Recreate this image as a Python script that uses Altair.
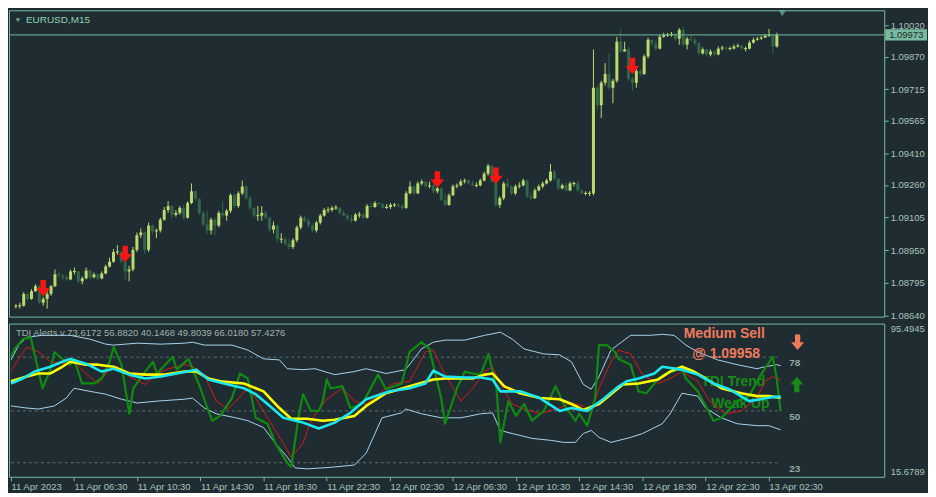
import altair as alt
import pandas as pd

# ---------------- price data (EURUSD, M15) ----------------
SYMBOL = "EURUSD,M15"
FIRST_OPEN = 1.08681
CLOSE = [
    1.08686, 1.08686, 1.08742, 1.08718, 1.08755, 1.08779, 1.08700, 1.08718, 1.08742, 1.08779,
    1.08835, 1.08830, 1.08821, 1.08811, 1.08849, 1.08849, 1.08802, 1.08816, 1.08853, 1.08821,
    1.08835, 1.08816, 1.08839, 1.08872, 1.08895, 1.08941, 1.08941, 1.08895, 1.08849, 1.08858,
    1.08951, 1.09021, 1.09034, 1.08951, 1.09067, 1.09039, 1.09044, 1.09095, 1.09141, 1.09160,
    1.09118, 1.09127, 1.09151, 1.09104, 1.09174, 1.09230, 1.09193, 1.09127, 1.09072, 1.09044,
    1.09095, 1.09067, 1.09127, 1.09114, 1.09137, 1.09211, 1.09160, 1.09220, 1.09253, 1.09197,
    1.09151, 1.09114, 1.09114, 1.09127, 1.09104, 1.09048, 1.09067, 1.09002, 1.09002, 1.08979,
    1.08965, 1.08997, 1.09058, 1.09104, 1.09090, 1.09067, 1.09044, 1.09081, 1.09114, 1.09141,
    1.09141, 1.09151, 1.09151, 1.09127, 1.09114, 1.09100, 1.09090, 1.09118, 1.09118, 1.09104,
    1.09160, 1.09155, 1.09174, 1.09169, 1.09151, 1.09155, 1.09165, 1.09165, 1.09160, 1.09151,
    1.09220, 1.09253, 1.09220, 1.09267, 1.09276, 1.09253, 1.09258, 1.09230, 1.09244, 1.09188,
    1.09165, 1.09211, 1.09253, 1.09258, 1.09276, 1.09281, 1.09267, 1.09258, 1.09258, 1.09281,
    1.09313, 1.09351, 1.09276, 1.09165, 1.09197, 1.09267, 1.09253, 1.09220, 1.09253, 1.09258,
    1.09281, 1.09207, 1.09197, 1.09234, 1.09253, 1.09267, 1.09281, 1.09323, 1.09290, 1.09244,
    1.09258, 1.09234, 1.09267, 1.09267, 1.09234, 1.09220, 1.09220, 1.09220, 1.09722, 1.09639,
    1.09746, 1.09787, 1.09722, 1.09755, 1.09941, 1.09894, 1.09904, 1.09764, 1.09746, 1.09801,
    1.09787, 1.09871, 1.09950, 1.09932, 1.09908, 1.09964, 1.09973, 1.09973, 1.09978, 1.09955,
    1.09997, 1.09927, 1.09955, 1.09950, 1.09932, 1.09885, 1.09904, 1.09880, 1.09894, 1.09880,
    1.09908, 1.09913, 1.09908, 1.09908, 1.09918, 1.09922, 1.09908, 1.09908, 1.09936, 1.09950,
    1.09955, 1.09960, 1.09969, 1.09973, 1.09918, 1.09973,
]
HIGH = [
    1.08695, 1.08700, 1.08751, 1.08746, 1.08765, 1.08788, 1.08783, 1.08728, 1.08755, 1.08783,
    1.08858, 1.08849, 1.08839, 1.08830, 1.08858, 1.08867, 1.08849, 1.08825, 1.08867, 1.08858,
    1.08844, 1.08839, 1.08849, 1.08881, 1.08914, 1.08955, 1.08974, 1.08946, 1.08904, 1.08876,
    1.08965, 1.09034, 1.09053, 1.09039, 1.09081, 1.09072, 1.09053, 1.09104, 1.09155, 1.09183,
    1.09165, 1.09141, 1.09160, 1.09165, 1.09183, 1.09267, 1.09234, 1.09197, 1.09137, 1.09137,
    1.09104, 1.09104, 1.09137, 1.09183, 1.09146, 1.09220, 1.09220, 1.09230, 1.09281, 1.09258,
    1.09207, 1.09155, 1.09160, 1.09160, 1.09137, 1.09109, 1.09086, 1.09072, 1.09030, 1.09011,
    1.09002, 1.09007, 1.09067, 1.09114, 1.09114, 1.09100, 1.09076, 1.09090, 1.09123, 1.09151,
    1.09155, 1.09160, 1.09165, 1.09155, 1.09137, 1.09123, 1.09118, 1.09127, 1.09132, 1.09127,
    1.09169, 1.09174, 1.09183, 1.09179, 1.09174, 1.09169, 1.09174, 1.09174, 1.09174, 1.09169,
    1.09230, 1.09276, 1.09258, 1.09276, 1.09286, 1.09276, 1.09276, 1.09267, 1.09253, 1.09248,
    1.09220, 1.09220, 1.09262, 1.09267, 1.09286, 1.09290, 1.09286, 1.09281, 1.09272, 1.09290,
    1.09323, 1.09360, 1.09355, 1.09281, 1.09207, 1.09276, 1.09290, 1.09258, 1.09262, 1.09272,
    1.09290, 1.09286, 1.09225, 1.09244, 1.09262, 1.09276, 1.09290, 1.09360, 1.09332, 1.09290,
    1.09267, 1.09272, 1.09276, 1.09276, 1.09281, 1.09239, 1.09230, 1.09230, 1.09904, 1.09732,
    1.09755, 1.09839, 1.09885, 1.09764, 1.09964, 1.10001, 1.09941, 1.09918, 1.09774, 1.09811,
    1.09811, 1.09880, 1.09960, 1.09950, 1.09946, 1.09973, 1.09983, 1.09983, 1.09987, 1.09983,
    1.10006, 1.10011, 1.09964, 1.09969, 1.09960, 1.09941, 1.09913, 1.09908, 1.09904, 1.09899,
    1.09918, 1.09922, 1.09918, 1.09918, 1.09927, 1.09932, 1.09927, 1.09918, 1.09946, 1.09960,
    1.09964, 1.09969, 1.09978, 1.10001, 1.09978, 1.09983,
]
LOW = [
    1.08672, 1.08672, 1.08681, 1.08709, 1.08714, 1.08751, 1.08695, 1.08686, 1.08672, 1.08732,
    1.08774, 1.08816, 1.08807, 1.08802, 1.08807, 1.08835, 1.08793, 1.08788, 1.08811, 1.08811,
    1.08816, 1.08807, 1.08811, 1.08835, 1.08867, 1.08890, 1.08928, 1.08886, 1.08811, 1.08802,
    1.08849, 1.08941, 1.09007, 1.08932, 1.08941, 1.09025, 1.09007, 1.09034, 1.09090, 1.09127,
    1.09100, 1.09109, 1.09118, 1.09095, 1.09100, 1.09169, 1.09183, 1.09118, 1.09062, 1.09025,
    1.09025, 1.09021, 1.09058, 1.09104, 1.09090, 1.09127, 1.09151, 1.09151, 1.09211, 1.09188,
    1.09141, 1.09104, 1.09090, 1.09090, 1.09095, 1.09039, 1.09030, 1.08988, 1.08983, 1.08974,
    1.08955, 1.08955, 1.08988, 1.09048, 1.09081, 1.09058, 1.09034, 1.09034, 1.09072, 1.09109,
    1.09127, 1.09132, 1.09141, 1.09118, 1.09109, 1.09090, 1.09081, 1.09086, 1.09104, 1.09095,
    1.09100, 1.09146, 1.09151, 1.09160, 1.09146, 1.09146, 1.09146, 1.09155, 1.09151, 1.09141,
    1.09146, 1.09216, 1.09211, 1.09216, 1.09258, 1.09248, 1.09244, 1.09220, 1.09220, 1.09183,
    1.09160, 1.09160, 1.09207, 1.09244, 1.09253, 1.09267, 1.09262, 1.09253, 1.09248, 1.09253,
    1.09276, 1.09304, 1.09272, 1.09155, 1.09151, 1.09188, 1.09244, 1.09211, 1.09211, 1.09244,
    1.09253, 1.09197, 1.09188, 1.09193, 1.09230, 1.09244, 1.09262, 1.09276, 1.09281, 1.09234,
    1.09239, 1.09230, 1.09230, 1.09253, 1.09225, 1.09216, 1.09211, 1.09207, 1.09211, 1.09615,
    1.09578, 1.09732, 1.09713, 1.09648, 1.09746, 1.09885, 1.09894, 1.09755, 1.09708, 1.09722,
    1.09778, 1.09783, 1.09862, 1.09922, 1.09899, 1.09904, 1.09960, 1.09964, 1.09964, 1.09946,
    1.09927, 1.09918, 1.09904, 1.09941, 1.09922, 1.09876, 1.09880, 1.09871, 1.09871, 1.09871,
    1.09876, 1.09899, 1.09899, 1.09899, 1.09904, 1.09913, 1.09904, 1.09894, 1.09904, 1.09932,
    1.09946, 1.09950, 1.09960, 1.09964, 1.09880, 1.09913,
]

SELL_ARROW_BARS = [7, 28, 108, 123, 158]
SELL_ARROW_PRICES = [1.08769, 1.08932, 1.09286, 1.09304, 1.09825]

BID_PRICE = 1.09973
PRICE_TICKS = [1.10020, 1.09870, 1.09715, 1.09565, 1.09410, 1.09260, 1.09105, 1.08950, 1.08795, 1.08640]
PRICE_RANGE = [1.08634, 1.10090]

TIME_TICK_BARS = [0, 16, 32, 48, 64, 80, 96, 112, 128, 144, 160, 176, 192]
TIME_TICK_LABELS = ["11 Apr 2023", "11 Apr 06:30", "11 Apr 10:30", "11 Apr 14:30", "11 Apr 18:30",
                    "11 Apr 22:30", "12 Apr 02:30", "12 Apr 06:30", "12 Apr 10:30", "12 Apr 14:30",
                    "12 Apr 18:30", "12 Apr 22:30", "13 Apr 02:30"]

# ---------------- TDI indicator data ----------------
TDI_RANGE = [15.6789, 95.4945]
LEVELS = [78, 50, 23]

UPPER_BARS = [0, 2, 4, 8, 11, 15, 20, 24, 26, 29, 32, 38, 44, 46, 49, 52, 56, 60, 64, 68, 70, 74, 77, 82, 87, 90, 95, 100,
              104, 107, 110, 115, 120, 124, 127, 130, 135, 139, 142, 145, 147, 149, 152, 154, 157, 162, 165, 168, 171,
              174, 179, 184, 189, 191, 194, 195]
UPPER_VALS = [76.6, 84.3, 88.4, 89.4, 89.4, 89.4, 87.4, 84.8, 84.3, 84.8, 85.3, 84.8, 85.3, 85.8, 84.3, 84.3, 84.3, 81.7,
              77.1, 76.6, 72.0, 71.5, 72.0, 68.9, 70.5, 72.0, 69.5, 71.5, 82.3, 85.8, 86.9, 86.9, 89.4, 91.0, 87.4, 82.3,
              79.7, 79.2, 75.6, 63.8, 61.3, 67.9, 81.7, 84.8, 89.4, 89.4, 89.9, 89.4, 84.3, 80.7, 76.6, 74.1, 72.0, 73.0,
              74.1, 73.6172]

LOWER_BARS = [0, 4, 7, 11, 14, 16, 20, 24, 28, 32, 37, 44, 46, 49, 52, 57, 60, 64, 67, 70, 72, 75, 79, 82, 87, 90, 94, 99,
              100, 104, 109, 114, 119, 122, 124, 127, 132, 137, 140, 143, 145, 147, 149, 152, 157, 160, 165, 167, 170,
              174, 176, 180, 184, 189, 192, 195]
LOWER_VALS = [52.6, 51.5, 51.0, 52.6, 56.7, 61.8, 60.2, 58.7, 56.1, 54.1, 55.1, 56.1, 56.7, 51.5, 48.5, 46.4, 44.9, 41.3,
              33.1, 25.9, 20.3, 19.8, 20.3, 20.8, 21.8, 28.0, 46.4, 49.0, 51.0, 48.5, 46.4, 46.4, 48.5, 49.0, 39.8, 38.2,
              35.7, 34.6, 33.6, 33.6, 38.2, 39.8, 36.2, 33.6, 36.2, 38.2, 43.3, 48.5, 59.2, 57.7, 51.5, 46.4, 43.3, 42.3,
              42.3, 40.1468]

BASE_BARS = [0, 4, 7, 10, 13, 15, 19, 22, 26, 30, 34, 39, 44, 47, 50, 53, 59, 64, 68, 71, 75, 79, 82, 87, 90, 95, 101, 107,
             110, 117, 120, 122, 125, 129, 134, 139, 142, 145, 149, 152, 155, 159, 164, 167, 170, 173, 176, 180, 185,
             189, 192, 195]
BASE_VALS = [65.4, 67.9, 69.5, 69.5, 73.0, 75.6, 74.1, 74.1, 73.0, 69.5, 68.9, 68.9, 70.5, 70.5, 66.9, 65.4, 64.3, 60.2,
             51.5, 45.9, 45.9, 44.9, 45.4, 47.4, 52.6, 59.2, 62.8, 66.4, 66.9, 66.9, 68.9, 69.5, 62.8, 59.2, 56.7, 56.1,
             53.6, 50.5, 53.6, 58.7, 63.8, 64.3, 66.4, 70.5, 73.0, 70.5, 66.9, 61.8, 59.2, 57.7, 57.7, 56.8820]

CYAN_BARS = [0, 3, 6, 10, 13, 15, 19, 23, 26, 30, 34, 38, 42, 47, 50, 55, 59, 62, 65, 69, 74, 78, 82, 86, 90, 96, 101, 105,
             107, 110, 115, 119, 122, 124, 129, 134, 139, 142, 146, 150, 154, 156, 159, 163, 165, 170, 174, 178, 182,
             187, 190, 193, 195]
CYAN_VALS = [64.3, 66.9, 70.5, 73.0, 75.6, 77.1, 74.6, 70.5, 72.0, 68.9, 66.9, 67.9, 69.5, 71.5, 66.4, 63.8, 61.8, 58.7,
             53.6, 46.4, 43.9, 40.8, 43.9, 49.0, 56.1, 60.2, 61.8, 64.3, 71.0, 67.9, 67.4, 67.4, 66.4, 60.2, 60.2, 56.7,
             50.0, 51.5, 50.0, 56.1, 62.8, 65.4, 66.9, 69.5, 73.0, 71.5, 68.9, 64.3, 61.3, 55.1, 56.1, 57.2, 57.4276]

SIGNAL_BARS = [0, 2, 4, 7, 10, 14, 16, 19, 22, 25, 27, 30, 34, 37, 40, 44, 46, 49, 52, 55, 57, 60, 62, 65, 69, 71, 74, 76,
               80, 84, 87, 90, 94, 97, 101, 105, 107, 110, 114, 117, 120, 122, 124, 127, 130, 134, 139, 142, 145, 147,
               149, 152, 154, 157, 160, 164, 167, 170, 174, 177, 181, 185, 189, 191, 193, 195]
SIGNAL_VALS = [70.5, 77.1, 83.3, 80.7, 75.6, 74.6, 75.6, 69.5, 64.3, 71.5, 73.0, 67.9, 63.8, 69.5, 72.0, 74.1, 73.0, 68.9,
               55.1, 51.0, 55.1, 61.8, 56.7, 46.4, 33.1, 25.9, 33.1, 44.9, 56.1, 61.8, 55.1, 53.6, 60.2, 64.3, 65.4, 80.7,
               81.7, 68.9, 55.1, 61.8, 70.5, 73.0, 63.8, 53.6, 51.0, 48.5, 51.5, 54.1, 52.6, 48.5, 61.8, 75.6, 81.7, 79.7,
               68.9, 64.3, 66.9, 70.5, 65.4, 55.1, 48.5, 50.0, 56.7, 65.4, 67.9, 66.0180]

RSI_BARS = [0, 1, 3, 5, 6, 8, 10, 11, 13, 15, 16, 18, 21, 23, 25, 26, 28, 30, 31, 34, 36, 37, 41, 42, 45, 48, 50, 51, 53,
            56, 58, 60, 62, 65, 67, 70, 71, 73, 74, 76, 78, 79, 80, 81, 84, 86, 89, 93, 95, 99, 101, 104, 106, 109, 110,
            113, 115, 117, 119, 121, 123, 124, 126, 128, 130, 132, 135, 138, 140, 143, 144, 146, 148, 149, 151, 153,
            154, 157, 159, 161, 164, 166, 170, 171, 174, 176, 178, 180, 184, 187, 190, 193, 194, 195]
RSI_VALS = [78.2, 82.3, 87.4, 88.4, 79.2, 61.8, 71.5, 80.7, 77.1, 74.1, 77.1, 64.3, 64.3, 66.9, 75.6, 83.3, 74.1, 48.5,
            61.8, 70.5, 75.6, 69.5, 78.2, 71.5, 77.1, 61.8, 50.0, 44.9, 47.4, 56.7, 69.5, 66.9, 46.4, 43.3, 33.1, 22.9,
            20.8, 48.5, 58.7, 50.0, 50.0, 55.1, 66.4, 61.8, 62.8, 51.5, 53.6, 68.9, 61.3, 64.3, 80.7, 85.8, 82.3, 56.7,
            43.3, 61.8, 70.5, 69.5, 68.9, 79.7, 61.8, 33.6, 55.1, 47.4, 53.6, 44.9, 50.0, 62.8, 53.6, 44.9, 48.5, 42.3,
            56.7, 84.3, 84.3, 80.7, 77.1, 74.1, 60.2, 59.2, 66.9, 69.5, 72.0, 66.9, 60.2, 52.6, 44.9, 46.4, 55.1, 57.7,
            68.9, 78.2, 66.9, 49.8039]

SIGNAL_TEXT = ["Medium Sell", "@ 1.09958"]
TREND_TEXT = ["TDI Trend", "Weak Up"]

# ---------------- style ----------------
BG = "#1f2d32"
FRAME = "#78b9a0"
LBL = "#a9c3bb"
BULL = "#bcd96d"
BEAR = "#33654c"
FONT = "Liberation Sans"
W, H1, H2 = 880, 308, 154
ARROW_DOWN = "M-0.4,-1.2L0.4,-1.2L0.4,0L1,0L0,1.2L-1,0L-0.4,0Z"
ARROW_UP = "M-0.4,1.2L0.4,1.2L0.4,0L1,0L0,-1.2L-1,0L-0.4,0Z"

XS = alt.Scale(domain=[-0.5, 221.25], nice=False, zero=False)
YS = alt.Scale(domain=PRICE_RANGE, nice=False, zero=False)
VS = alt.Scale(domain=TDI_RANGE, nice=False, zero=False)
CS = alt.Scale(domain=["up", "down"], range=[BULL, BEAR])
ONE = alt.Data(values=[{}])

# ---------------- candles ----------------
rows = []
prev = FIRST_OPEN
for i, c in enumerate(CLOSE):
    o = prev
    top, bot = max(o, c), min(o, c)
    if top - bot < 0.00005:
        mid = (top + bot) / 2
        top, bot = mid + 0.000025, mid - 0.000025
    rows.append(dict(i=i, open=o, close=c, high=max(HIGH[i], o, c), low=min(LOW[i], o, c),
                     top=top, bot=bot, dir="up" if c >= o else "down"))
    prev = c
candles = pd.DataFrame(rows)
arrows = pd.DataFrame({"i": SELL_ARROW_BARS, "p": SELL_ARROW_PRICES})

PA = alt.Axis(orient="right", values=PRICE_TICKS, format=".5f", title=None, domain=False,
              ticks=True, tickSize=4, tickColor=FRAME, labelPadding=2, labelOverlap=False,
              labelColor=LBL, labelFont=FONT, labelFontSize=9.5, grid=False)


def px(field):
    return alt.X(field, type="quantitative", scale=XS, axis=None)


def py(field):
    return alt.Y(field, type="quantitative", scale=YS, axis=PA)


def pyd(v):
    return alt.YDatum(v, type="quantitative", scale=YS, axis=PA)


color = alt.Color("dir:N", scale=CS, legend=None)
wicks = alt.Chart(candles).mark_rule(strokeWidth=1).encode(
    x=px("i"), y=py("low"), y2="high:Q", color=color)
bodies = alt.Chart(candles).mark_bar(size=3).encode(
    x=px("i"), y=py("bot"), y2="top:Q", color=color)
sell_arrows = alt.Chart(arrows).mark_point(shape=ARROW_DOWN, filled=True, size=190, color="#ff1414",
                                           opacity=1, strokeWidth=0).encode(x=px("i"), y=py("p"))
bid_line = alt.Chart(ONE).mark_rule(color=FRAME, strokeWidth=1).encode(y=pyd(BID_PRICE))
bid_box = alt.Chart(ONE).mark_rect(color=FRAME).encode(
    x=alt.value(W + 1), x2=alt.value(W + 43),
    y=pyd(BID_PRICE + 0.00027), y2=alt.Y2Datum(BID_PRICE - 0.00027))
bid_text = alt.Chart(ONE).mark_text(align="left", baseline="middle", color="#17302a", font=FONT,
                                    fontSize=9.5).encode(
    x=alt.value(W + 5), y=pyd(BID_PRICE), text=alt.value(f"{BID_PRICE:.5f}"))
sym_tri = alt.Chart(ONE).mark_point(shape="triangle-down", filled=True, size=22, color="#8fd0b3").encode(
    x=alt.value(9), y=alt.value(10))
sym_text = alt.Chart(ONE).mark_text(align="left", baseline="middle", color="#8fd0b3", font=FONT,
                                    fontSize=10).encode(
    x=alt.value(17), y=alt.value(10), text=alt.value(SYMBOL))
shift_tri = alt.Chart(ONE).mark_point(shape="triangle-down", filled=True, size=50, color=FRAME).encode(
    x=alt.XDatum(196.4, type="quantitative", scale=XS, axis=None), y=alt.value(3))

top = alt.layer(wicks, bodies, sell_arrows, bid_line, bid_box, bid_text, sym_tri, sym_text,
                shift_tri).properties(width=W, height=H1)

# ---------------- TDI panel ----------------
label_expr = ("[" + ",".join(f"'{t}'" for t in TIME_TICK_LABELS) + "][indexof(["
              + ",".join(str(b) for b in TIME_TICK_BARS) + "], datum.value)]")
TA = alt.Axis(values=TIME_TICK_BARS, labelExpr=label_expr, title=None, domain=False,
              ticks=True, tickSize=4, tickColor=FRAME, labelAlign="left", labelPadding=1,
              labelOverlap=False, labelColor=LBL, labelFont=FONT, labelFontSize=9.5, grid=False,
              labelFlush=False)
VA = alt.Axis(orient="right", values=[TDI_RANGE[1], TDI_RANGE[0]], format=".4f", title=None,
              domain=False, ticks=False, labelPadding=6, labelFlush=True, labelOverlap=False,
              labelColor=LBL, labelFont=FONT, labelFontSize=9.5, grid=False)


def tx(field):
    return alt.X(field, type="quantitative", scale=XS, axis=TA)


def txd(v):
    return alt.XDatum(v, type="quantitative", scale=XS, axis=TA)


def ty(field):
    return alt.Y(field, type="quantitative", scale=VS, axis=VA)


def tyd(v):
    return alt.YDatum(v, type="quantitative", scale=VS, axis=VA)


lv = pd.DataFrame({"level": LEVELS, "label": [str(v) for v in LEVELS]})
level_rules = alt.Chart(lv).mark_rule(strokeDash=[3, 3], color="#5b6d70", strokeWidth=1).encode(
    x=txd(0), x2=alt.X2Datum(194.5), y=ty("level"))
level_text = alt.Chart(lv).mark_text(color="#8fa9a6", font=FONT, fontSize=10, fontWeight="bold",
                                     dy=6).encode(x=txd(198.6), y=ty("level"), text="label:N")


def series(bars, vals, col, width):
    df = pd.DataFrame({"i": bars, "v": vals})
    return alt.Chart(df).mark_line(color=col, strokeWidth=width, strokeJoin="round").encode(
        x=tx("i"), y=ty("v"))


def note(text, i, v, col, size=14, shape=None):
    if shape:
        return alt.Chart(ONE).mark_point(shape=shape, filled=True, size=size, color=col, opacity=1,
                                         strokeWidth=0).encode(x=txd(i), y=tyd(v))
    return alt.Chart(ONE).mark_text(color=col, font=FONT, fontSize=size, fontWeight="bold").encode(
        x=txd(i), y=tyd(v), text=alt.value(text))


header = "TDI Alerts v " + " ".join(f"{s[-1]:.4f}" for s in
                                     [UPPER_VALS, BASE_VALS, LOWER_VALS, RSI_VALS, SIGNAL_VALS, CYAN_VALS])
head_text = alt.Chart(ONE).mark_text(align="left", baseline="middle", color="#9fb3ab", font=FONT,
                                     fontSize=9.5).encode(x=alt.value(7), y=alt.value(9),
                                                          text=alt.value(header))

SALMON = "#f07a5c"
TGREEN = "#178a17"
bottom = alt.layer(
    level_rules, level_text, head_text,
    note(TREND_TEXT[0], 183.0, 65.2, TGREEN), note(TREND_TEXT[1], 184.8, 53.8, TGREEN),
    series(UPPER_BARS, UPPER_VALS, "#a9d3ea", 1),
    series(LOWER_BARS, LOWER_VALS, "#a9d3ea", 1),
    series(SIGNAL_BARS, SIGNAL_VALS, "#d81818", 1),
    series(RSI_BARS, RSI_VALS, "#108a10", 2.2),
    series(BASE_BARS, BASE_VALS, "#ffff00", 2.6),
    series(CYAN_BARS, CYAN_VALS, "#1ee6ee", 2.6),
    note(SIGNAL_TEXT[0], 180.7, 90.2, SALMON), note(SIGNAL_TEXT[1], 181.2, 79.6, SALMON),
    note("", 199.3, 85.8, SALMON, size=170, shape=ARROW_DOWN),
    note("", 199.1, 63.8, TGREEN, size=170, shape=ARROW_UP),
).properties(width=W, height=H2)

chart = alt.vconcat(top, bottom, spacing=2, padding=0, background=BG).configure_view(
    stroke=FRAME, strokeWidth=1).configure_axis(labelFont=FONT)

chart.save("out.html", embed_options={"renderer": "svg", "actions": False})
